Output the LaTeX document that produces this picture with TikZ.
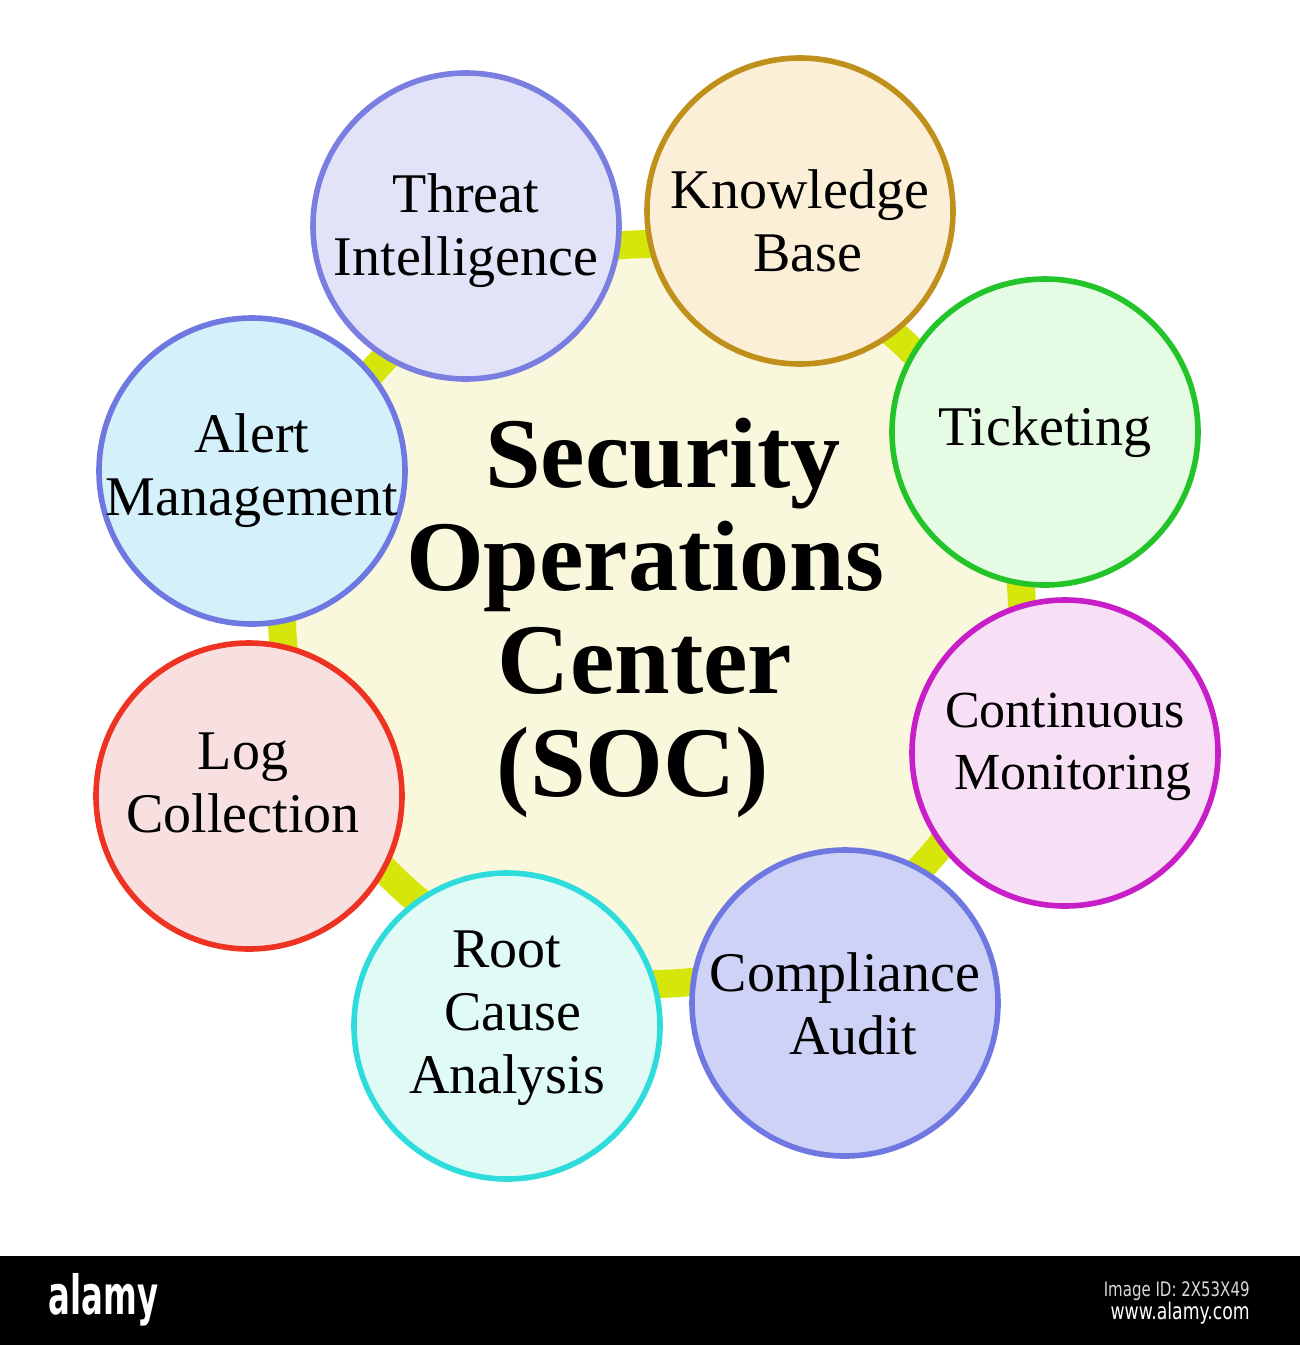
\documentclass[tikz,border=0pt]{standalone}
\usepackage{fontspec}
\setmainfont{Liberation Serif}
\newfontfamily\logofont{DejaVu Sans}
\definecolor{tiFill}{HTML}{E2E3F8}\definecolor{tiDraw}{HTML}{7A7EE0}
\definecolor{kbFill}{HTML}{FCEFD8}\definecolor{kbDraw}{HTML}{C0901C}
\definecolor{tkFill}{HTML}{E6FBE4}\definecolor{tkDraw}{HTML}{22C42A}
\definecolor{cmFill}{HTML}{F7DFF5}\definecolor{cmDraw}{HTML}{C81EC8}
\definecolor{caFill}{HTML}{CED2F7}\definecolor{caDraw}{HTML}{6E78E0}
\definecolor{rcFill}{HTML}{E0FAF6}\definecolor{rcDraw}{HTML}{2EDCDC}
\definecolor{lcFill}{HTML}{F8E0E0}\definecolor{lcDraw}{HTML}{EE3322}
\definecolor{amFill}{HTML}{D4F0FA}\definecolor{amDraw}{HTML}{6E78E0}
\definecolor{hubFill}{HTML}{FAF8DC}\definecolor{ringCol}{HTML}{D6E60A}
\definecolor{idGrey}{HTML}{D8D8D8}
\tikzset{
  bubble/.style={circle, line width=2.8pt, minimum size=153pt, inner sep=0pt},
  lbl/.style={align=center, inner sep=0pt, font=\fontsize{28}{31.5}\selectfont},
  hub/.style={circle, fill=hubFill, draw=ringCol, line width=14pt, minimum size=370pt, inner sep=0pt},
  title/.style={align=center, font=\fontsize{50}{51.5}\selectfont\bfseries},
  wm/.style={text=white, inner sep=0pt}
}
\begin{document}
\begin{tikzpicture}[x=0.5pt, y=-0.5pt]
\useasboundingbox (0,0) rectangle (1300,1345);
\fill[white] (0,0) rectangle (1300,1345);
% central hub with ring
\node[hub] (hub) at (652,614) {};
% satellites
\node[bubble, fill=tiFill, draw=tiDraw] (ti) at (466,226) {};
\node[bubble, fill=kbFill, draw=kbDraw] (kb) at (800,211) {};
\node[bubble, fill=tkFill, draw=tkDraw] (tk) at (1045,432) {};
\node[bubble, fill=cmFill, draw=cmDraw] (cm) at (1065,753) {};
\node[bubble, fill=caFill, draw=caDraw] (ca) at (845,1003) {};
\node[bubble, fill=rcFill, draw=rcDraw] (rc) at (507,1026) {};
\node[bubble, fill=lcFill, draw=lcDraw] (lc) at (249,796) {};
\node[bubble, fill=amFill, draw=amDraw] (am) at (252,471) {};
% labels
\node[lbl] (tiT) at ([yshift=-2.5pt]ti.center) {Threat\\Intelligence};
\node[lbl] (kbT) at ([yshift=-5pt]kb.center) {Knowledge\\\hspace*{8pt}Base};
\node[lbl] (tkT) at (tk.center) {Ticketing};
\node[lbl, font=\fontsize{26}{31}\selectfont] (cmT) at ([yshift=3pt]cm.center) {Continuous\\\hspace*{8pt}Monitoring};
\node[lbl] (caT) at ([yshift=-0.5pt]ca.center) {Compliance\\\hspace*{8pt}Audit};
\node[lbl] (rcT) at ([yshift=4pt]rc.center) {Root\\\hspace*{6pt}Cause\\Analysis};
\node[lbl] (lcT) at ([xshift=-3pt,yshift=6.5pt]lc.center) {Log\\Collection};
\node[lbl] (amT) at (am.center) {Alert\\Management};
% title
\node[title] (soc) at (645,618) {\hspace*{18pt}Security\\Operations\\Center\hspace*{12pt}\\(SOC)\hspace*{12pt}};
% bottom bar
\fill[black] (0,1256) rectangle (1300,1345);
\node[wm, font=\logofont\bfseries\fontsize{27}{27}\selectfont, anchor=west] (logo) at (48,1300) {\scalebox{0.6}[1]{alamy}};
\node[wm, text=idGrey, font=\logofont\fontsize{10}{10}\selectfont, anchor=east] (imgid) at (1250,1291) {\scalebox{0.75}[1]{Image ID: 2X53X49}};
\node[wm, font=\logofont\fontsize{11.5}{11}\selectfont, anchor=east] (www) at (1250,1313) {\scalebox{0.75}[1]{www.alamy.com}};
\end{tikzpicture}
\end{document}
